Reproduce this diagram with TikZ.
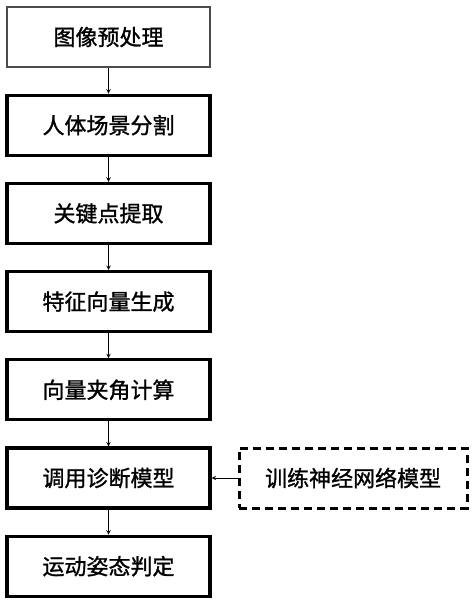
\documentclass[tikz,border=0pt]{standalone}
\usepackage{fontspec}
\newfontfamily\cjk{Noto Sans CJK SC}[FakeBold=1.2]
\usetikzlibrary{positioning}
\begin{document}
\begin{tikzpicture}[x=1pt,y=1pt,>=stealth,node distance=25pt,
	nodes={draw, rectangle, minimum width=203pt, minimum height=60pt, line width=3.2pt, font=\cjk\fontsize{22}{22}\selectfont},
	line/.style={->, line width=1pt}]
			\useasboundingbox (0,0) rectangle (474,-607);
			\node (n0) [line width=1.2pt, draw=black!70] at (108.5,-37) {图像预处理};
			\node (n1) [below = 26pt of n0]{人体场景分割};
			\node (n2) [below = of n1]{关键点提取};
			\node (n3) [below = of n2]{特征向量生成};
			\node (n4) [below = of n3]{向量夹角计算};
			\node (n5) [below = of n4]{调用诊断模型};
			\node (n6) [below = of n5]{运动姿态判定};
			\node (m0) [right = 26pt of n5, minimum width=228pt, dash pattern=on 8pt off 5pt, line width=3pt]{训练神经网络模型};
			\draw[line] (n0) -- (n1);
			\draw[line] (n1) -- (n2);
			\draw[line] (n2) -- (n3);
			\draw[line] (n3) -- (n4);
			\draw[line] (n4) -- (n5);
			\draw[line] (n5) -- (n6);
			\draw[line] (m0) -- (n5);
		\end{tikzpicture}
\end{document}
